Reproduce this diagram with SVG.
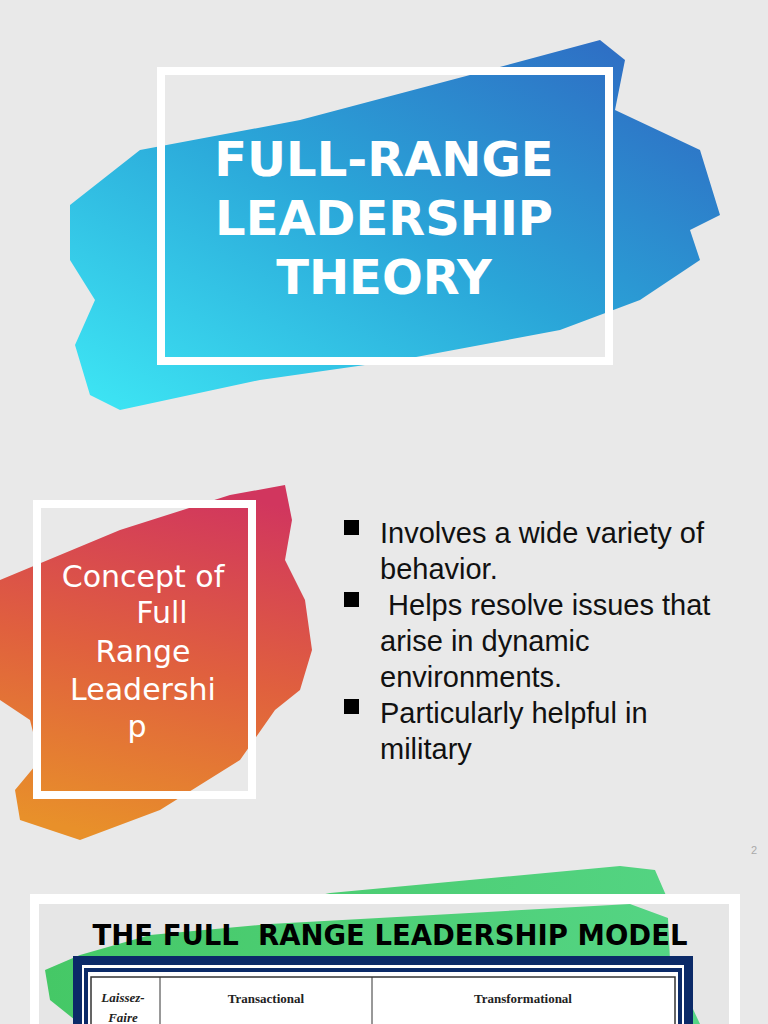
<svg xmlns="http://www.w3.org/2000/svg" width="768" height="1024" viewBox="0 0 768 1024">
<defs>
<linearGradient id="gb" x1="1" y1="0" x2="0" y2="1"><stop offset="0" stop-color="#2f63c0"/><stop offset="0.5" stop-color="#2aa5d8"/><stop offset="1" stop-color="#3ee8f5"/></linearGradient>
<linearGradient id="go" x1="0.6" y1="0" x2="0.4" y2="1"><stop offset="0" stop-color="#d1365e"/><stop offset="0.5" stop-color="#e0603e"/><stop offset="1" stop-color="#e8902a"/></linearGradient>
<linearGradient id="gg" x1="0" y1="0" x2="1" y2="0"><stop offset="0" stop-color="#45c866"/><stop offset="1" stop-color="#55d585"/></linearGradient>
<style>
.frame{fill:none;stroke:#fff;stroke-width:8}
.t1{font-family:"DejaVu Sans",sans-serif;font-weight:bold;font-size:48px;fill:#fff;text-anchor:middle}
.t2{font-family:"DejaVu Sans",sans-serif;font-size:30px;fill:#fff;text-anchor:middle}
.b{font-family:"Liberation Sans",sans-serif;font-size:29px;fill:#111}
.tab{font-family:"Liberation Serif",serif;font-weight:bold;font-size:13px;fill:#222;text-anchor:middle}
</style>
</defs>
<rect width="768" height="1024" fill="#e9e9e9"/>
<g id="slide1">
<path d="M70,205 L140,150 L300,120 L470,75 L600,40 L625,60 L615,110 L700,150 L720,215 L690,230 L700,260 L640,300 L560,330 L400,360 L260,380 L120,410 L90,395 L75,345 L95,300 L70,260 Z" fill="url(#gb)"/>
<rect class="frame" x="161" y="71" width="448" height="290"/>
<text class="t1" x="384" y="176">FULL-RANGE</text>
<text class="t1" x="384" y="235">LEADERSHIP</text>
<text class="t1" x="384" y="294">THEORY</text>
</g>
<g id="slide2">
<path d="M0,580 L120,530 L230,495 L285,485 L292,520 L285,560 L305,600 L312,650 L300,690 L275,710 L240,760 L160,810 L80,840 L20,820 L15,790 L40,760 L30,720 L0,700 Z" fill="url(#go)"/>
<rect class="frame" x="37" y="504" width="215" height="291"/>
<text class="t2" x="143" y="587">Concept of</text>
<text class="t2" x="162" y="623">Full</text>
<text class="t2" x="143" y="662">Range</text>
<text class="t2" x="143" y="700">Leadershi</text>
<text class="t2" x="137" y="737">p</text>
<rect x="344" y="520" width="15" height="15" fill="#000"/>
<rect x="344" y="592" width="15" height="15" fill="#000"/>
<rect x="344" y="699" width="15" height="15" fill="#000"/>
<text class="b" x="380" y="543">Involves a wide variety of</text>
<text class="b" x="380" y="579">behavior.</text>
<text class="b" x="380" y="615" xml:space="preserve"> Helps resolve issues that</text>
<text class="b" x="380" y="651">arise in dynamic</text>
<text class="b" x="380" y="687">environments.</text>
<text class="b" x="380" y="723">Particularly helpful in</text>
<text class="b" x="380" y="759">military</text>
<text x="754" y="854" font-family="Liberation Sans,sans-serif" font-size="11" fill="#aaa" text-anchor="middle">2</text>
</g>
<g id="slide3">
<path d="M330,893 L620,866 L655,870 L668,900 L720,1015 L740,1024 L80,1024 L40,1000 L45,960 L80,950 L130,935 Z" fill="url(#gg)"/>
<rect x="30" y="894" width="710" height="140" fill="#fff"/>
<rect x="39" y="904" width="690" height="130" fill="#e6e6e6"/>
<path d="M270,924 L630,904 L668,918 L670,960 L700,1024 L80,1024 L50,1000 L45,970 L80,955 L150,935 Z" fill="url(#gg)"/>
<text x="390" y="945" font-family="DejaVu Sans,sans-serif" font-weight="bold" font-size="27.5" fill="#000" text-anchor="middle" xml:space="preserve">THE FULL  RANGE LEADERSHIP MODEL</text>
<rect x="73" y="956" width="620" height="80" fill="#0b2a68"/>
<rect x="82" y="965" width="602" height="70" fill="#fff"/>
<rect x="86" y="970" width="594" height="65" fill="none" stroke="#0b2a68" stroke-width="4"/>
<rect x="91" y="977" width="584" height="60" fill="#fff" stroke="#333" stroke-width="1.5"/>
<line x1="160" y1="977" x2="160" y2="1024" stroke="#333"/>
<line x1="372" y1="977" x2="372" y2="1024" stroke="#333"/>
<text class="tab" x="123" y="1002" font-style="italic">Laissez-</text>
<text class="tab" x="123" y="1022" font-style="italic">Faire</text>
<text class="tab" x="266" y="1003">Transactional</text>
<text class="tab" x="523" y="1003">Transformational</text>
</g>
</svg>
